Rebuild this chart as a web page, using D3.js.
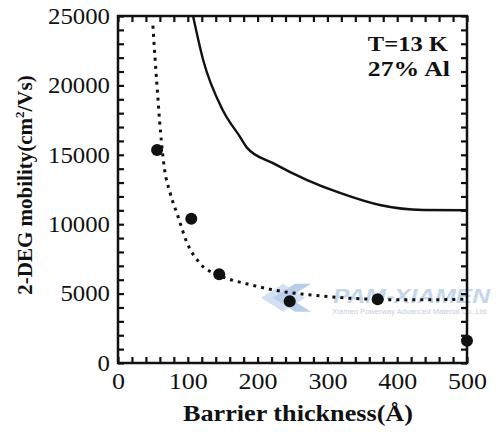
<!DOCTYPE html>
<meta charset="utf-8">
<head>
    <meta charset="utf-8">
    <title>2-DEG mobility vs barrier thickness</title>
    <script src="https://d3js.org/d3.v7.min.js" charset="utf-8"></script>
    <style>
        html, body {
            margin: 0;
            padding: 0;
            background: #fff;
        }
        text {
            font-family: "Liberation Serif", "DejaVu Serif", serif;
            fill: #111;
        }
        .axis path, .axis line {
            stroke: #111;
        }
        .frame {
            fill: none;
            stroke: #111;
            stroke-width: 2.5px;
        }
    </style>
</head>
<body>
<div class="chart"></div>
<script>

/****************************
 data
****************************/
// measured points : barrier thickness (A) , mobility (cm2/Vs)
var pointX = [56, 105, 145, 246, 372, 500];
var pointY = [15350, 10400, 6400, 4450, 4600, 1600];

// dotted curve (fit through the points)
var dotX = [50, 53, 56, 61, 66, 75, 85, 99, 117, 146, 189, 242, 262, 308, 350, 404, 450, 497];
var dotY = [24300, 22000, 19900, 16600, 14200, 12200, 10700, 8650, 7200, 6300, 5650, 5100, 4980, 4750, 4620, 4560, 4560, 4600];

// solid curve
var solidX = [107.5, 122, 150, 175, 185, 222, 271, 318, 375, 437, 500];
var solidY = [25000, 21830, 18230, 16280, 15500, 14400, 13180, 12250, 11380, 11020, 11000];

var xTicks = [0, 100, 200, 300, 400, 500];
var yTicks = [0, 5000, 10000, 15000, 20000, 25000];

var note1 = "T=13 K";
var note2 = "27% Al";

/****************************
 svg
****************************/
var W = 502, H = 437;
var margin = {top: 16, right: 35, bottom: 74, left: 118};
var width = W - margin.left - margin.right,
    height = H - margin.top - margin.bottom;

var svg = d3.select(".chart")
    .append("svg")
    .attr("width", W)
    .attr("height", H);

var g = svg.append("g")
    .attr("transform", "translate(" + margin.left + "," + margin.top + ")");

var xScale = d3.scaleLinear().domain([0, 500]).range([0, width]);
var yScale = d3.scaleLinear().domain([0, 25000]).range([height, 0]);

/****************************
 watermark (behind everything)
****************************/
var wm = g.append("g").attr("opacity", 0.8);
wm.append("path")
    .attr("d", "M" + (xScale(205)) + "," + (yScale(4700)) +
               " l22,-14 l22,14 l-22,14 z")
    .attr("fill", "#c9d9ef");
wm.append("path")
    .attr("d", "M" + (xScale(222)) + "," + (yScale(4700)) +
               " l22,-14 l16,0 l-22,14 l22,14 l-16,0 z")
    .attr("fill", "#a9c3e6");
wm.append("text")
    .attr("x", xScale(308))
    .attr("y", yScale(4350))
    .attr("textLength", 157)
    .attr("lengthAdjust", "spacingAndGlyphs")
    .style("font-family", "'Liberation Sans', Arial, sans-serif")
    .style("font-size", "20px")
    .style("font-weight", "bold")
    .style("font-style", "italic")
    .style("fill", "#b7cbe6")
    .text("PAM-XIAMEN");
wm.append("text")
    .attr("x", xScale(307))
    .attr("y", yScale(3550))
    .attr("textLength", 156)
    .attr("lengthAdjust", "spacingAndGlyphs")
    .style("font-family", "'Liberation Sans', Arial, sans-serif")
    .style("font-size", "7px")
    .style("fill", "#b9c4d2")
    .text("Xiamen Powerway Advanced Material Co.,Ltd.");

/****************************
 axes: ticks inward on all 4 sides
****************************/
var xMinor = d3.range(0, 501, 20);
var yMinor = d3.range(0, 25001, 1000);

function styleAxis(sel) {
    sel.select(".domain").remove();
    sel.selectAll("line").attr("stroke-width", 2.2);
}

g.append("g").attr("class", "axis")
    .attr("transform", "translate(0," + height + ")")
    .call(d3.axisBottom(xScale).tickValues(xMinor).tickSize(-6).tickFormat(""))
    .call(styleAxis);
g.append("g").attr("class", "axis")
    .call(d3.axisTop(xScale).tickValues(xMinor).tickSize(-6).tickFormat(""))
    .call(styleAxis);
g.append("g").attr("class", "axis")
    .call(d3.axisLeft(yScale).tickValues(yMinor).tickSize(-6).tickFormat(""))
    .call(styleAxis);
g.append("g").attr("class", "axis")
    .attr("transform", "translate(" + width + ",0)")
    .call(d3.axisRight(yScale).tickValues(yMinor).tickSize(-6).tickFormat(""))
    .call(styleAxis);

// tick labels
g.append("g").attr("class", "axis")
    .attr("transform", "translate(0," + height + ")")
    .call(d3.axisBottom(xScale).tickValues(xTicks).tickSize(0).tickPadding(10))
    .call(function(s) {
        s.select(".domain").remove();
        s.selectAll("text")
            .style("font-size", "23px")
            .style("font-family", "'Liberation Serif', serif")
            .attr("fill", "#111")
            .attr("textLength", function(d) { return String(d).length * 13; })
            .attr("lengthAdjust", "spacingAndGlyphs");
    });
g.append("g").attr("class", "axis")
    .call(d3.axisLeft(yScale).tickValues(yTicks).tickSize(0).tickPadding(8)
        .tickFormat(d3.format("d")))
    .call(function(s) {
        s.select(".domain").remove();
        s.selectAll("text")
            .style("font-size", "23px")
            .style("font-family", "'Liberation Serif', serif")
            .attr("fill", "#111")
            .attr("textLength", function(d) { return String(d).length * 12.4; })
            .attr("lengthAdjust", "spacingAndGlyphs");
    });

g.append("rect")
    .attr("class", "frame")
    .attr("x", 0).attr("y", 0)
    .attr("width", width).attr("height", height);

/****************************
 curves & points
****************************/
var line = d3.line()
    .curve(d3.curveMonotoneX)
    .x(function(d) { return xScale(d[0]); })
    .y(function(d) { return yScale(d[1]); });

var dotData = dotX.map(function(x, i) { return [x, dotY[i]]; });
var solidData = solidX.map(function(x, i) { return [x, solidY[i]]; });
var pts = pointX.map(function(x, i) { return [x, pointY[i]]; });

g.append("path")
    .datum(solidData)
    .attr("fill", "none")
    .attr("stroke", "#111")
    .attr("stroke-width", 2.4)
    .attr("d", line);

g.append("path")
    .datum(dotData)
    .attr("fill", "none")
    .attr("stroke", "#111")
    .attr("stroke-width", 3)
    .attr("stroke-dasharray", "3,5")
    .attr("d", line);

g.selectAll(".pt")
    .data(pts)
    .enter()
    .append("circle")
    .attr("class", "pt")
    .attr("cx", function(d) { return xScale(d[0]); })
    .attr("cy", function(d) { return yScale(d[1]); })
    .attr("r", 6)
    .attr("fill", "#111");

/****************************
 labels
****************************/
g.append("text")
    .attr("x", xScale(358))
    .attr("y", yScale(22500))
    .attr("textLength", 80)
    .attr("lengthAdjust", "spacingAndGlyphs")
    .style("font-size", "21px")
    .style("font-weight", "bold")
    .text(note1);
g.append("text")
    .attr("x", xScale(358))
    .attr("y", yScale(20700))
    .attr("textLength", 82)
    .attr("lengthAdjust", "spacingAndGlyphs")
    .style("font-size", "21px")
    .style("font-weight", "bold")
    .text(note2);

svg.append("text")
    .attr("x", 183)
    .attr("y", 421)
    .attr("textLength", 230)
    .attr("lengthAdjust", "spacingAndGlyphs")
    .style("font-size", "24px")
    .style("font-weight", "bold")
    .text("Barrier thickness(\u00c5)");

svg.append("text")
    .attr("transform", "translate(32,185) rotate(-90)")
    .attr("text-anchor", "middle")
    .style("font-size", "21px")
    .style("font-weight", "bold")
    .html("2-DEG mobility(cm<tspan dy='-8' font-size='13px'>2</tspan><tspan dy='8'>/Vs)</tspan>");

</script>
</body>
